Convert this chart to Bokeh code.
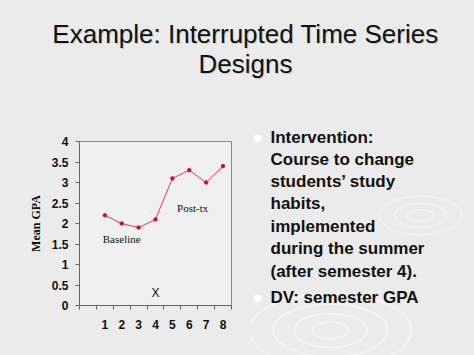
from bokeh.plotting import figure
from bokeh.layouts import column, row
from bokeh.models import Label, FixedTicker, Range1d
from bokeh.embed import file_html
from bokeh.resources import INLINE

# ---- data ----
semesters = [1, 2, 3, 4, 5, 6, 7, 8]
mean_gpa = [2.2, 2.0, 1.9, 2.1, 3.1, 3.3, 3.0, 3.4]
y_ticks = [0, 0.5, 1, 1.5, 2, 2.5, 3, 3.5, 4]
title_lines = ["Example: Interrupted Time Series", "Designs"]
bullet_lines = [
    ("Intervention:", True),
    ("Course to change", False),
    ("students\u2019 study", False),
    ("habits,", False),
    ("implemented", False),
    ("during the summer", False),
    ("(after semester 4).", False),
    ("DV: semester GPA", True),
]

BG = "#ebebeb"
INK = "#111111"
W, H = 474, 355
TOP_H = 90          # height of the title strip
CHART_W = 250       # width of the chart panel
LOW_H = H - TOP_H


def text_canvas(width, height):
    f = figure(width=width, height=height, output_backend="svg", toolbar_location=None,
               x_range=Range1d(0, width), y_range=Range1d(height, 0),
               min_border=0, min_border_left=0, min_border_right=0,
               min_border_top=0, min_border_bottom=0)
    f.frame_align = False
    f.axis.visible = False
    f.grid.visible = False
    f.outline_line_color = None
    f.background_fill_color = BG
    f.border_fill_color = BG
    f.styles = {"background-color": BG}
    return f


# ---- title strip ----
top = text_canvas(W, TOP_H)
for line, y in zip(title_lines, [33, 63]):
    top.add_layout(Label(x=246, y=y + 1, text=line, text_font="Liberation Sans",
                         text_font_size="26px", text_align="center", text_baseline="middle",
                         text_color="#777777", text_alpha=0.3))
    top.add_layout(Label(x=245, y=y, text=line, text_font="Liberation Sans",
                         text_font_size="26px", text_align="center", text_baseline="middle",
                         text_color=INK))

# ---- chart ----
p = figure(width=CHART_W, height=LOW_H, output_backend="svg", toolbar_location=None,
           x_range=Range1d(-0.5, 8.5), y_range=Range1d(0, 4),
           min_border_left=79, min_border_right=CHART_W - 231,
           min_border_top=141 - TOP_H, min_border_bottom=H - 305)
p.frame_align = False
p.styles = {"background-color": BG}
p.background_fill_color = "#f0f0f0"
p.border_fill_color = BG
p.outline_line_color = "#8a8a8a"
p.outline_line_width = 1
p.grid.visible = False

xax = p.xaxis[0]
xax.ticker = FixedTicker(ticks=semesters, minor_ticks=[i - 0.5 for i in range(0, 10)])
xax.major_tick_out = 0
xax.major_tick_in = 0
xax.minor_tick_out = 4
xax.minor_tick_in = 0
xax.minor_tick_line_color = "#666666"
xax.axis_line_color = "#666666"
xax.major_label_standoff = 10
xax.major_label_text_font = "Liberation Sans"
xax.major_label_text_font_style = "bold"
xax.major_label_text_font_size = "12px"
xax.major_label_text_color = INK

yax = p.yaxis[0]
yax.ticker = FixedTicker(ticks=y_ticks)
yax.minor_tick_line_color = None
yax.major_tick_out = 4
yax.major_tick_in = 0
yax.major_tick_line_color = "#666666"
yax.axis_line_color = "#666666"
yax.major_label_standoff = 7
yax.major_label_text_font = "Liberation Sans"
yax.major_label_text_font_style = "bold"
yax.major_label_text_font_size = "12px"
yax.major_label_text_color = INK
yax.axis_label = "Mean GPA"
yax.axis_label_text_font = "Liberation Serif"
yax.axis_label_text_font_style = "bold"
yax.axis_label_text_font_size = "12px"
yax.axis_label_text_color = INK
yax.axis_label_standoff = 6

p.line(semesters, mean_gpa, line_color="#e23c44", line_width=1)
p.scatter(semesters, mean_gpa, size=3.5, fill_color="#c8102e", line_color="#c8102e")

p.add_layout(Label(x=2.0, y=1.63, text="Baseline", text_font="Liberation Serif",
                   text_font_size="11px", text_align="center", text_baseline="middle",
                   text_color=INK))
p.add_layout(Label(x=6.2, y=2.39, text="Post-tx", text_font="Liberation Serif",
                   text_font_size="11px", text_align="center", text_baseline="middle",
                   text_color=INK))
p.add_layout(Label(x=4, y=0.3, text="X", text_font="Liberation Sans",
                   text_font_size="12px", text_align="center", text_baseline="middle",
                   text_color=INK))

# ---- bullet text ----
txt = text_canvas(W - CHART_W, LOW_H)
# faint ripple decoration of the slide background
for r in [14, 28, 44, 62]:
    txt.ellipse(x=[80], y=[240], width=[r * 2.6], height=[r * 1.2],
                fill_color=None, line_color="#ffffff", line_width=2, line_alpha=0.45)
for r in [10, 20, 32]:
    txt.ellipse(x=[170], y=[125], width=[r * 2.6], height=[r * 1.2],
                fill_color=None, line_color="#ffffff", line_width=1.5, line_alpha=0.4)

bullet_y = [137, 159, 181, 203, 226, 248, 271, 297]
for (line, has_bullet), y in zip(bullet_lines, bullet_y):
    txt.add_layout(Label(x=270 - CHART_W, y=y - TOP_H, text=line, text_font="Liberation Sans",
                         text_font_style="bold", text_font_size="17px", text_align="left",
                         text_baseline="middle", text_color=INK))
    if has_bullet:
        txt.add_layout(Label(x=257 - CHART_W, y=y - TOP_H, text="\u25cf", text_font="DejaVu Sans",
                             text_font_size="10px", text_align="center", text_baseline="middle",
                             text_color="#ffffff"))

lower = row(p, txt, spacing=0)
lower.styles = {"background-color": BG}
layout = column(top, lower, spacing=0)
layout.styles = {"background-color": BG}
open("out.html", "w").write(file_html(layout, INLINE))
